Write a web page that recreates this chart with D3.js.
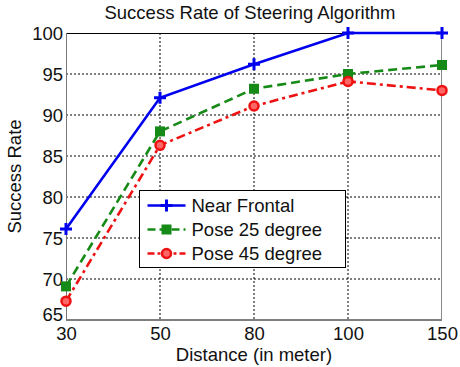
<!DOCTYPE html>
<html>
<head>
<meta charset="utf-8">
<script src="https://cdn.jsdelivr.net/npm/d3@7"></script>
<style>
  body { margin: 0; background: #fff; }
  text { font-family: "Liberation Sans", Arial, sans-serif; }
</style>
</head>
<body>
<div id="wrapper"></div>
<script>
const distances = ['30', '50', '80', '100', '150']
const nearFrontal = [76.1, 92.1, 96.2, 100, 100]
const pose25 = [69.1, 88.0, 93.2, 95.0, 96.1]
const pose45 = [67.3, 86.3, 91.1, 94.1, 93.0]
const yTicks = [65, 70, 75, 80, 85, 90, 95, 100]
const seriesNames = ['Near Frontal', 'Pose 25 degree', 'Pose 45 degree']

const series = [
  { name: seriesNames[0], values: nearFrontal, color: '#0000ee', dash: null, marker: 'plus' },
  { name: seriesNames[1], values: pose25, color: '#168a16', dash: '9,5', marker: 'square' },
  { name: seriesNames[2], values: pose45, color: '#ee1111', dash: '9,4,3,4', marker: 'circle' },
]

const dimensions = {
  width: 460,
  height: 367,
  margin: { top: 33, right: 18, bottom: 47, left: 66 },
}
dimensions.boundedWidth = dimensions.width - dimensions.margin.left - dimensions.margin.right
dimensions.boundedHeight = dimensions.height - dimensions.margin.top - dimensions.margin.bottom

const wrapper = d3.select('#wrapper')
  .append('svg')
    .attr('width', dimensions.width)
    .attr('height', dimensions.height)

const bounds = wrapper.append('g')
    .attr('transform', `translate(${dimensions.margin.left},${dimensions.margin.top})`)

const xScale = d3.scalePoint()
    .domain(distances)
    .range([0, dimensions.boundedWidth])

const yScale = d3.scaleLinear()
    .domain([65, 100])
    .range([dimensions.boundedHeight, 0])

// grid
bounds.append('g')
  .selectAll('line')
  .data(yTicks.slice(1, -1))
  .join('line')
    .attr('x1', 0)
    .attr('x2', dimensions.boundedWidth)
    .attr('y1', d => yScale(d))
    .attr('y2', d => yScale(d))
    .attr('stroke', '#000')
    .attr('stroke-width', 1)
    .attr('stroke-dasharray', '2,2')

bounds.append('g')
  .selectAll('line')
  .data(distances.slice(1, -1))
  .join('line')
    .attr('x1', d => xScale(d))
    .attr('x2', d => xScale(d))
    .attr('y1', 0)
    .attr('y2', dimensions.boundedHeight)
    .attr('stroke', '#000')
    .attr('stroke-width', 1)
    .attr('stroke-dasharray', '2,2')

// frame
bounds.append('line')
    .attr('x1', 0).attr('x2', dimensions.boundedWidth)
    .attr('y1', 0.5).attr('y2', 0.5)
    .attr('stroke', '#000')
bounds.append('line')
    .attr('x1', 0).attr('x2', dimensions.boundedWidth)
    .attr('y1', dimensions.boundedHeight).attr('y2', dimensions.boundedHeight)
    .attr('stroke', '#000')
bounds.append('line')
    .attr('x1', 0.5).attr('x2', 0.5)
    .attr('y1', 0).attr('y2', dimensions.boundedHeight)
    .attr('stroke', '#777')
bounds.append('line')
    .attr('x1', dimensions.boundedWidth - 0.5).attr('x2', dimensions.boundedWidth - 0.5)
    .attr('y1', 0).attr('y2', dimensions.boundedHeight)
    .attr('stroke', '#888')

// axes
const yAxis = bounds.append('g')
    .call(d3.axisLeft(yScale).tickValues(yTicks).tickSize(0).tickPadding(3))
yAxis.select('.domain').remove()
yAxis.selectAll('text')
    .attr('font-size', 18.5)
    .attr('fill', '#111')
    .attr('dy', d => d === 65 ? '0.05em' : '0.36em')
    .attr('font-family', '"Liberation Sans", Arial, sans-serif')

const xAxis = bounds.append('g')
    .attr('transform', `translate(0,${dimensions.boundedHeight})`)
    .call(d3.axisBottom(xScale).tickSize(0).tickPadding(7))
xAxis.select('.domain').remove()
xAxis.selectAll('text')
    .attr('font-size', 18.5)
    .attr('fill', '#111')
    .attr('font-family', '"Liberation Sans", Arial, sans-serif')

// lines
const lineGenerator = (values) => d3.line()
    .x((d, i) => xScale(distances[i]))
    .y(d => yScale(d))(values)

const seriesGroups = bounds.selectAll('.series')
  .data(series)
  .join('g')

seriesGroups.append('path')
    .attr('d', d => lineGenerator(d.values))
    .attr('fill', 'none')
    .attr('stroke', d => d.color)
    .attr('stroke-width', 2.6)
    .attr('stroke-dasharray', d => d.dash)

function drawMarker(g, type, color) {
  if (type === 'plus') {
    g.append('path')
        .attr('d', 'M-6,0H6M0,-6V6')
        .attr('stroke', color)
        .attr('stroke-width', 3)
  } else if (type === 'square') {
    g.append('rect')
        .attr('x', -5).attr('y', -5)
        .attr('width', 10).attr('height', 10)
        .attr('fill', color)
  } else {
    g.append('circle')
        .attr('r', 4.5)
        .attr('fill', '#f66')
        .attr('stroke', color)
        .attr('stroke-width', 2.5)
  }
}

seriesGroups.each(function(s) {
  d3.select(this).selectAll('.marker')
    .data(s.values)
    .join('g')
      .attr('transform', (d, i) => `translate(${xScale(distances[i])},${yScale(d)})`)
      .each(function() { drawMarker(d3.select(this), s.marker, s.color) })
})

// legend
const legend = wrapper.append('g')
    .attr('transform', 'translate(139.5,190.5)')

legend.append('rect')
    .attr('width', 206)
    .attr('height', 77)
    .attr('fill', '#fff')
    .attr('stroke', '#000')

const legendItems = legend.selectAll('.item')
  .data(series)
  .join('g')
    .attr('transform', (d, i) => `translate(0,${15 + i * 24})`)

legendItems.append('line')
    .attr('x1', 8).attr('x2', 46)
    .attr('stroke', d => d.color)
    .attr('stroke-width', 2.6)
    .attr('stroke-dasharray', d => d.marker === 'square' ? '8,4' : d.marker === 'circle' ? '7,3,3,3' : null)

legendItems.append('g')
    .attr('transform', 'translate(27,0)')
    .each(function(d) { drawMarker(d3.select(this), d.marker, d.color) })

legendItems.append('text')
    .attr('x', 52)
    .attr('dy', '0.36em')
    .attr('font-size', 18.5)
    .attr('fill', '#111')
    .text(d => d.name)

// title and labels
wrapper.append('text')
    .attr('x', 250)
    .attr('y', 19)
    .attr('text-anchor', 'middle')
    .attr('font-size', 18.5)
    .attr('fill', '#111')
    .text('Success Rate of Steering Algorithm')

wrapper.append('text')
    .attr('x', dimensions.margin.left + dimensions.boundedWidth / 2)
    .attr('y', 361)
    .attr('text-anchor', 'middle')
    .attr('font-size', 18.5)
    .attr('fill', '#111')
    .text('Distance (in meter)')

wrapper.append('text')
    .attr('transform', `translate(21,${dimensions.margin.top + dimensions.boundedHeight / 2}) rotate(-90)`)
    .attr('text-anchor', 'middle')
    .attr('font-size', 18.5)
    .attr('fill', '#111')
    .text('Success Rate')
</script>
</body>
</html>
